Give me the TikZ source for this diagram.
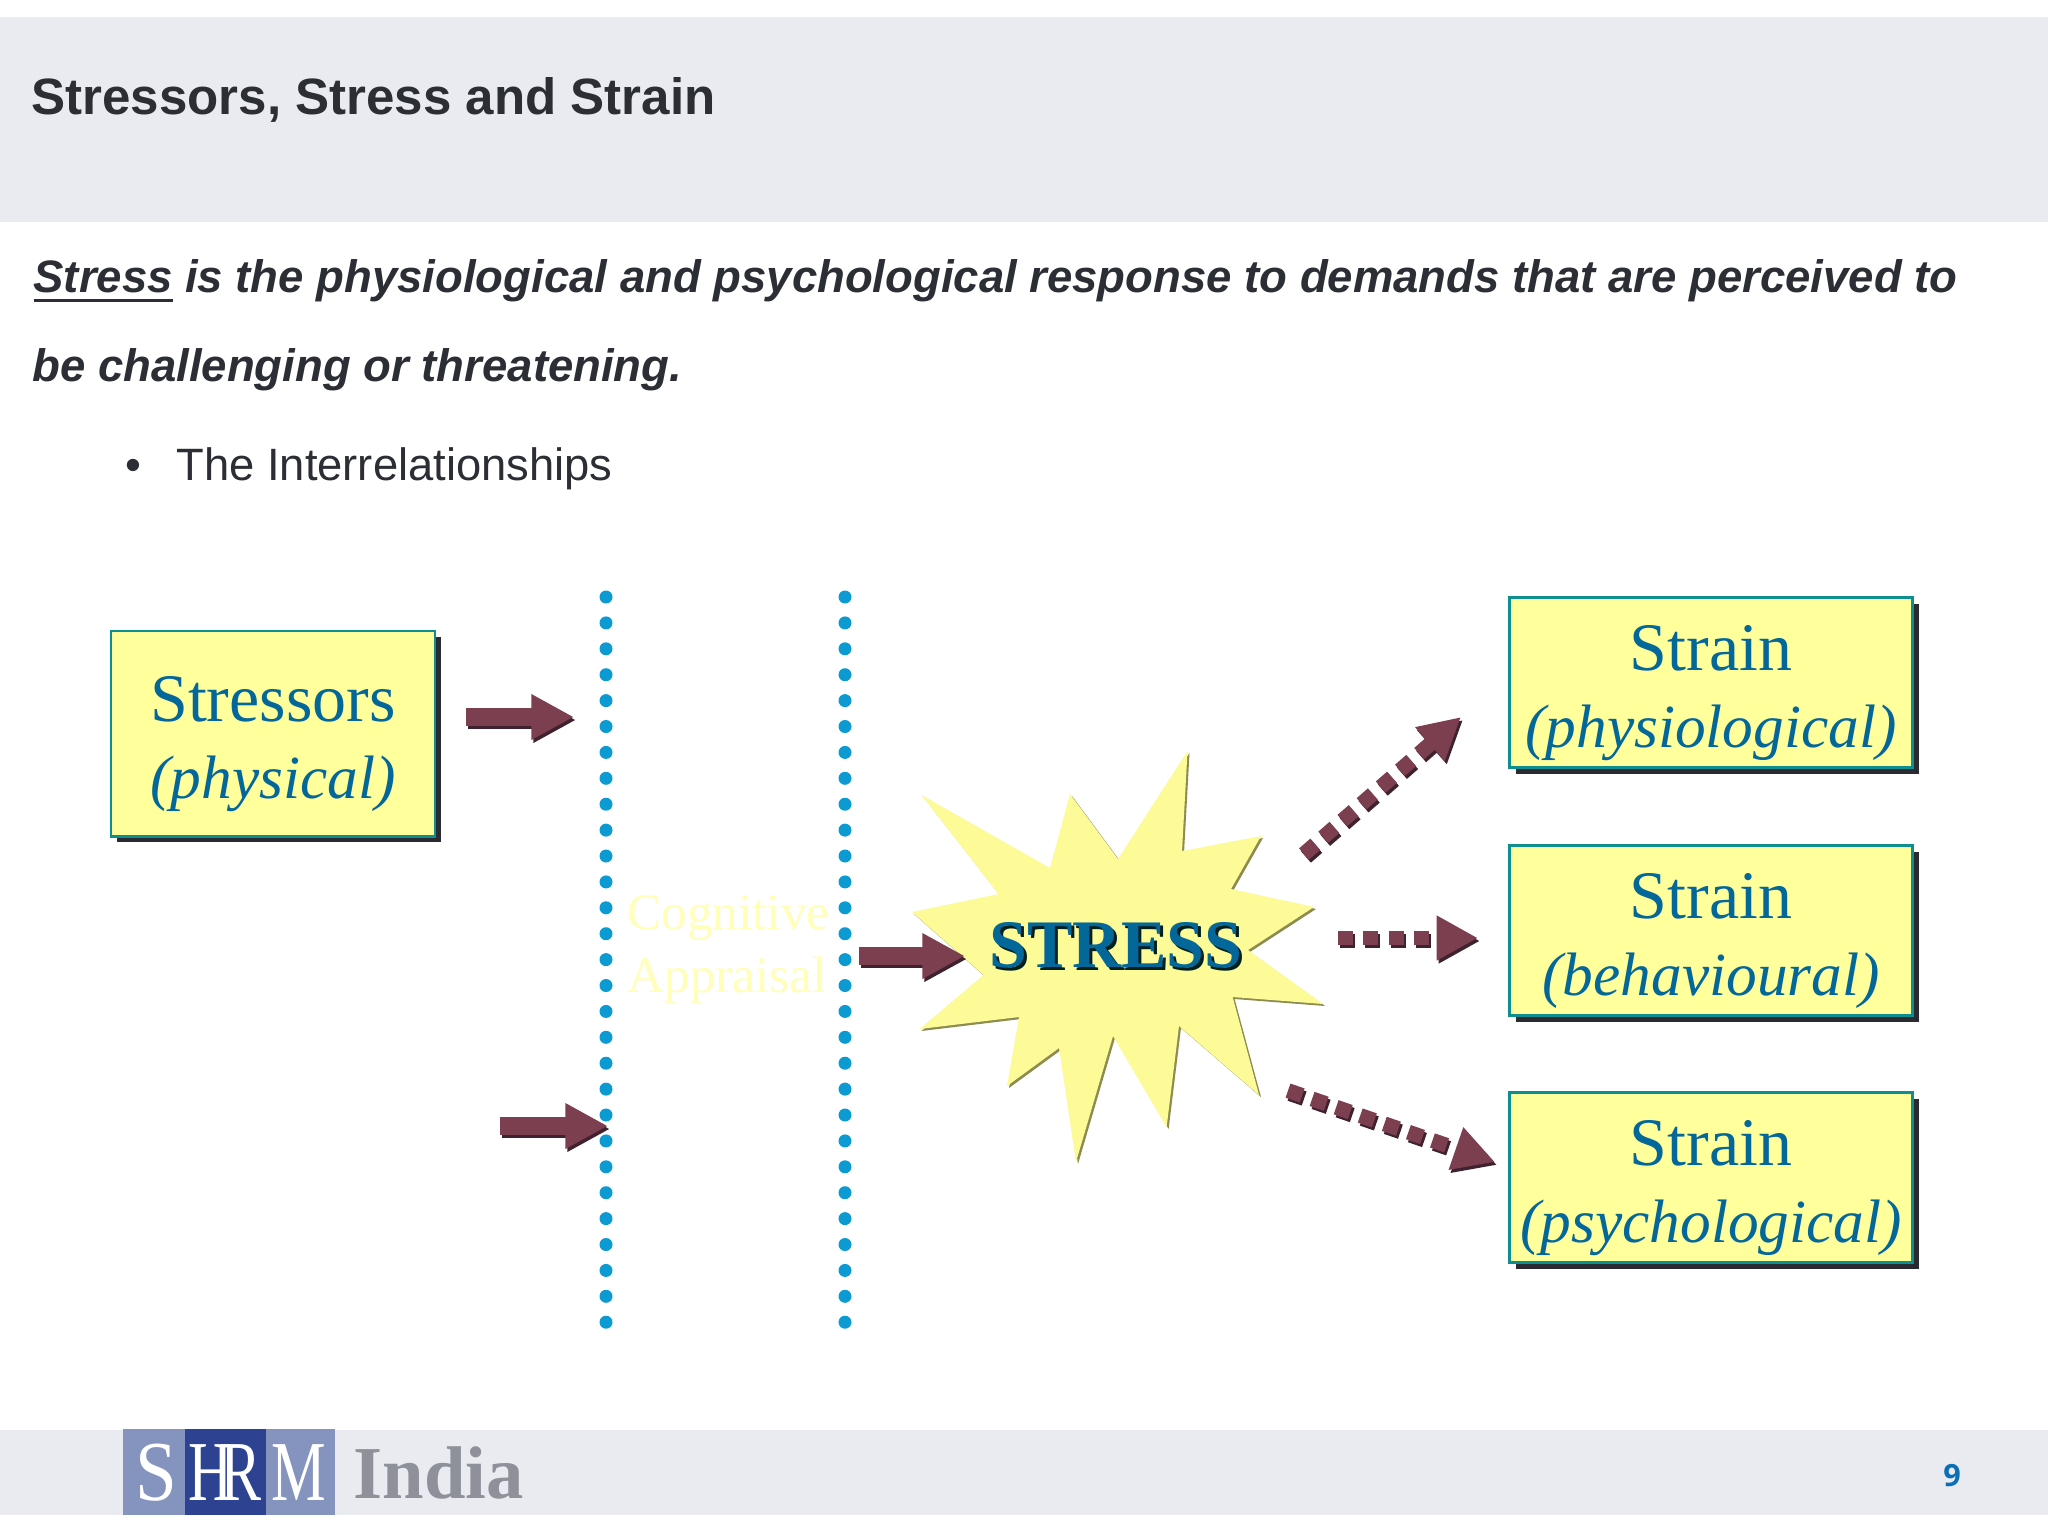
\documentclass[tikz,border=0pt]{standalone}
\usepackage{fontspec}
\usepackage{graphicx}
\setmainfont{Liberation Serif}
\setsansfont{Liberation Sans}
\newfontfamily\pagefont{Open Sans}
\usetikzlibrary{arrows.meta,shadows}
\definecolor{band}{HTML}{E9EBF0}
\definecolor{inktext}{HTML}{2B2E34}
\definecolor{boxfill}{HTML}{FFFF9C}
\definecolor{boxedge}{HTML}{0E8F8F}
\definecolor{boxshadow}{HTML}{2A2A33}
\definecolor{tealtext}{HTML}{04679A}
\definecolor{dotblue}{HTML}{0C9AD2}
\definecolor{starfill}{HTML}{FCFB98}
\definecolor{staredge}{HTML}{8C8C50}
\definecolor{arrowmain}{HTML}{7B3F50}
\definecolor{arrowdark}{HTML}{3E2230}
\definecolor{faint}{HTML}{FFFFBA}
\definecolor{logolight}{HTML}{8593BF}
\definecolor{logodark}{HTML}{2D4391}
\definecolor{logogrey}{HTML}{8E9199}
\definecolor{pageblue}{HTML}{0B6FB8}
\newcommand{\stressword}{\setbox0\hbox{Stress}\rlap{\rule[-3.6pt]{\wd0}{1.2pt}}\box0}
\newcommand{\lowerstack}{\rule{0pt}{24.7pt}}
\tikzset{
  stressbox/.style={draw=boxedge,line width=1.1pt,fill=boxfill,align=center,inner sep=0pt,
    text=tealtext,font=\fontsize{25.5pt}{29pt}\selectfont,
    drop shadow={shadow xshift=2.4pt,shadow yshift=-2.4pt,fill=boxshadow,opacity=1}},
  headtext/.style={anchor=base west,inner sep=0pt,text=inktext,font=\sffamily\bfseries\fontsize{19.15pt}{22pt}\selectfont},
  bodytext/.style={anchor=base west,inner sep=0pt,text=inktext,font=\sffamily\bfseries\itshape\fontsize{17.06pt}{20pt}\selectfont},
  plaintext/.style={anchor=base west,inner sep=0pt,text=inktext,font=\sffamily\fontsize{17pt}{20pt}\selectfont},
  fatline/.style={line width=6.75pt,-{Triangle[length=16pt,width=16pt]}},
  dashline/.style={line width=5.6pt,dash pattern=on 5.6pt off 3.95pt,-{Triangle[length=15.5pt,width=15.75pt]}},
  logotext/.style={inner sep=0pt,anchor=base,text=white,font=\fontsize{32pt}{32pt}\selectfont},
}
\newcommand{\fatarrow}[3]{%
  \draw[#1,arrowdark] ([shift={(2,3)}]#2) -- ([shift={(2,3)}]#3);
  \draw[#1,arrowmain] (#2) -- (#3);}
\begin{document}
\begin{tikzpicture}[x=0.375pt,y=-0.375pt]
\useasboundingbox (0,0) rectangle (2048,1536);
\fill[white] (0,0) rectangle (2048,1536);
% bands
\fill[band] (0,17) rectangle (2048,222);
\fill[band] (0,1430) rectangle (2048,1515);
% header and text
\node[headtext] (title) at (31,114) {Stressors, Stress and Strain};
\node[bodytext] (line1) at (33,292.5) {\stressword{} is the physiological and psychological response to demands that are perceived to};
\node[bodytext] (line2) at (32,381.5) {be challenging or threatening.};
\node[plaintext] (bullet) at (125,480) {•};
\node[plaintext] (interrel) at (176,480) {The Interrelationships};
% dotted lines
\foreach \i in {0,...,28}{
  \fill[dotblue] (606,597+25.9*\i) circle[radius=6.5];
  \fill[dotblue] (845,597+25.9*\i) circle[radius=6.5];
}
% boxes
\node[stressbox,minimum width=121.5pt,minimum height=76.9pt] (stressors) at (273,733.5) {\lowerstack Stressors\\[0pt]{\fontsize{23pt}{29pt}\selectfont\itshape (physical)}};
\node[stressbox,minimum width=151pt,minimum height=64pt] (strainA) at (1711,682.5) {\lowerstack Strain\\[0pt]{\fontsize{23pt}{29pt}\selectfont\itshape (physiological)}};
\node[stressbox,minimum width=151pt,minimum height=64pt] (strainB) at (1711,930.5) {\lowerstack Strain\\[0pt]{\fontsize{23pt}{29pt}\selectfont\itshape (behavioural)}};
\node[stressbox,minimum width=151pt,minimum height=64pt] (strainC) at (1711,1177.5) {\lowerstack Strain\\[0pt]{\fontsize{23pt}{29pt}\selectfont\itshape (psychological)}};
% cognitive appraisal
\node[anchor=base west,inner sep=0pt,text=faint,font=\fontsize{19.2pt}{19pt}\selectfont] (cog) at (627,929) {Cognitive};
\node[anchor=base west,inner sep=0pt,text=faint,font=\fontsize{19.2pt}{19pt}\selectfont] (app) at (627,992) {Appraisal};
% star
\def\starpath{(1187.5,751) -- (1182,851) -- (1261,836) -- (1231,889) -- (1314,907) -- (1248,950) -- (1323,1004) -- (1232.6,997) -- (1259,1095) -- (1179,1026) -- (1166.6,1127) -- (1113,1036) -- (1076,1162) -- (1059,1048) -- (1007,1086) -- (1019,1017) -- (919.5,1029) -- (983.5,975) -- (912,912) -- (998.6,894) -- (921.5,795) -- (1050,868) -- (1070,794) -- (1118,859) -- cycle}
\fill[staredge,shift={(2,2)}] \starpath;
\fill[starfill] \starpath;
% arrows
\coordinate (a1s) at (466,717); \coordinate (a1e) at (574,717);
\coordinate (a2s) at (500,1126); \coordinate (a2e) at (608,1126);
\coordinate (a3s) at (859,956); \coordinate (a3e) at (965,956);
\coordinate (d1s) at (1304,854); \coordinate (d1e) at (1461,717);
\coordinate (d2s) at (1338,938); \coordinate (d2e) at (1478,938);
\coordinate (d3s) at (1288,1090.6); \coordinate (d3e) at (1495,1162);
\fatarrow{fatline}{a1s}{a1e}
\fatarrow{fatline}{a2s}{a2e}
\fatarrow{fatline}{a3s}{a3e}
\fatarrow{dashline}{d1s}{d1e}
\fatarrow{dashline}{d2s}{d2e}
\fatarrow{dashline}{d3s}{d3e}
% STRESS
\node[inner sep=0pt,anchor=base,text=black!75!teal,font=\bfseries\fontsize{25.5pt}{26pt}\selectfont] (stressshadow) at (1119,970) {STRESS};
\node[inner sep=0pt,anchor=base,text=tealtext,font=\bfseries\fontsize{25.5pt}{26pt}\selectfont] (stress) at (1116,967) {STRESS};
% logo
\fill[logolight] (123,1429) rectangle (185,1515);
\fill[logodark] (185,1429) rectangle (266,1515);
\fill[logolight] (266,1429) rectangle (335,1515);
\node[logotext] (logoS) at (156,1500) {\scalebox{.88}[1]{S}};
\node[logotext] (logoHR) at (225,1500) {\scalebox{.72}[1]{H\kern-6ptR}};
\node[logotext] (logoM) at (299,1500) {\scalebox{.72}[1]{M}};
\node[inner sep=0pt,anchor=base west,text=logogrey,font=\bfseries\fontsize{28pt}{30pt}\selectfont] (india) at (353,1498) {India};
\node[inner sep=0pt,text=pageblue,font=\pagefont\bfseries\fontsize{11.5pt}{13pt}\selectfont] (pagenum) at (1952,1476) {9};
\end{tikzpicture}
\end{document}
